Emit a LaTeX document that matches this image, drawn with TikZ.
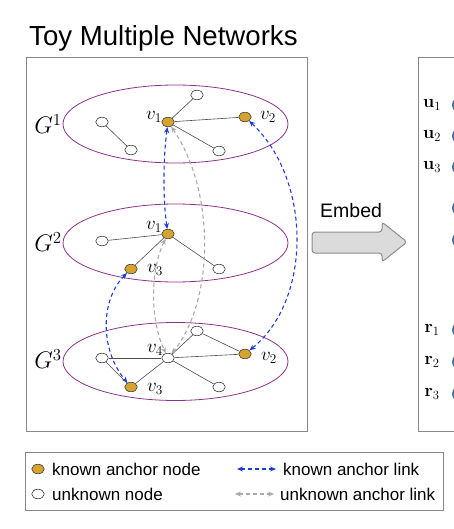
\RequirePackage{fix-cm}
\documentclass[tikz,border=0pt]{standalone}
\usepackage[no-math]{fontspec}
\setmainfont{Liberation Sans}
\usetikzlibrary{shapes.geometric,arrows.meta}
\definecolor{gold}{RGB}{214,164,46}
\definecolor{netpurple}{RGB}{140,50,140}
\definecolor{linkblue}{RGB}{30,60,220}
\definecolor{linkgray}{RGB}{170,170,170}
\definecolor{framegray}{RGB}{135,135,135}
\definecolor{embblue}{RGB}{70,115,170}
\tikzset{
  vnode/.style={ellipse,draw=black!75,line width=0.6pt,minimum width=12.5pt,minimum height=9.5pt,inner sep=0pt,fill=white},
  anode/.style={vnode,fill=gold},
  net/.style={ellipse,draw=netpurple,line width=0.8pt,minimum width=225pt,minimum height=78pt,inner sep=0pt},
  edge/.style={draw=black!70,line width=0.6pt},
  klink/.style={draw=linkblue,line width=1.1pt,dash pattern=on 4pt off 3pt,>={Stealth[length=6pt,width=5pt]},<->},
  ulink/.style={klink,draw=linkgray},
  vlab/.style={font=\fontsize{19}{22}\selectfont,inner sep=0pt},
  glab/.style={font=\fontsize{24}{28}\selectfont,inner sep=0pt},
  elab/.style={font=\fontsize{18}{21}\selectfont,inner sep=0pt,anchor=center},
  frame/.style={draw=framegray,line width=0.9pt},
  legtext/.style={font=\fontsize{17}{20}\selectfont,inner sep=0pt,anchor=base west},
  emb/.style={fill=embblue},
}
\begin{document}
\begin{tikzpicture}[x=1pt,y=-1pt]
\useasboundingbox (0,0) rectangle (454,529);
% title
\node[font=\fontsize{27.6}{32}\selectfont,inner sep=0pt,anchor=base west] (title) at (29,46) {Toy Multiple Networks};
% left frame
\draw[frame] (26,57) rectangle (307,431);
% networks
\node[net] (e1) at (175.5,124) {};
\node[net] (e2) at (175.5,243) {};
\node[net] (e3) at (175.5,361.5) {};
\node[glab] (gl1) at (48,124) {$G^1$};
\node[glab] (gl2) at (48,242) {$G^2$};
\node[glab] (gl3) at (48,359) {$G^3$};
% G1 nodes
\node[anode] (a1) at (168,122) {};
\node[vnode] (a2) at (197,95) {};
\node[anode] (a3) at (245,117) {};
\node[vnode] (a4) at (219,151) {};
\node[vnode] (a5) at (102,122) {};
\node[vnode] (a6) at (131,150) {};
\draw[edge] (a1) -- (a2);
\draw[edge] (a1) -- (a3);
\draw[edge] (a1) -- (a4);
\draw[edge] (a5) -- (a6);
\node[vlab] (la1) at (154,117) {$v_1$};
\node[vlab] (la3) at (268,117) {$v_2$};
% G2 nodes
\node[anode] (b1) at (168,234) {};
\node[vnode] (b2) at (102,241) {};
\node[anode] (b3) at (131,269) {};
\node[vnode] (b4) at (219,269) {};
\draw[edge] (b1) -- (b2);
\draw[edge] (b1) -- (b3);
\draw[edge] (b1) -- (b4);
\node[vlab] (lb1) at (154,227) {$v_1$};
\node[vlab] (lb3) at (155,270) {$v_3$};
% G3 nodes
\node[vnode] (c1) at (168,358) {};
\node[vnode] (c2) at (102,358) {};
\node[anode] (c3) at (131,387) {};
\node[vnode] (c4) at (197,331) {};
\node[anode] (c5) at (245,354) {};
\node[vnode] (c6) at (219,387) {};
\draw[edge] (c2) -- (c1);
\draw[edge] (c2) -- (c3);
\draw[edge] (c1) -- (c3);
\draw[edge] (c1) -- (c4);
\draw[edge] (c4) -- (c5);
\draw[edge] (c1) -- (c5);
\draw[edge] (c1) -- (c6);
\node[vlab] (lc1) at (155,350) {$v_4$};
\node[vlab] (lc5) at (269,358) {$v_2$};
\node[vlab] (lc3) at (155,389) {$v_3$};
% anchor links
\draw[klink] (a1) .. controls (163,160) and (163,200) .. (b1);
\draw[klink] (a3) .. controls (312,180) and (312,300) .. (c5);
\draw[klink] (b3) .. controls (100,300) and (100,350) .. (c3);
\draw[ulink] (a1) .. controls (215,190) and (215,300) .. (c1);
\draw[ulink] (b1) .. controls (150,270) and (150,320) .. (c1);
% embed arrow
\node[font=\fontsize{19.5}{23}\selectfont,inner sep=0pt,anchor=base west] (embed) at (320,217) {Embed};
\draw[draw=black!45,fill=black!14,line width=1pt,rounded corners=3pt]
  (312,232) -- (382,232) -- (382,222) -- (407,242) -- (382,262) -- (382,253) -- (312,253) -- cycle;
% right frame
\draw[frame] (418,57) rectangle (480,431);
\node[elab] (u1) at (432,105) {$\mathbf{u}_1$};
\node[elab] (u2) at (432,136) {$\mathbf{u}_2$};
\node[elab] (u3) at (432,167) {$\mathbf{u}_3$};
\node[elab] (r1) at (432,330) {$\mathbf{r}_1$};
\node[elab] (r2) at (432,362) {$\mathbf{r}_2$};
\node[elab] (r3) at (432,394) {$\mathbf{r}_3$};
\foreach \yy in {105,136,167,208,240,330,362,394}{
  \fill[emb] (460,\yy) circle[radius=8pt];
}
% legend
\draw[frame] (25,452) rectangle (443,510);
\node[anode] (k1) at (38,469) {};
\node[vnode] (k2) at (38,494) {};
\node[legtext] (t1) at (52,475) {known anchor node};
\node[legtext] (t2) at (52,500) {unknown node};
\coordinate (p1) at (237,469);
\coordinate (p2) at (276,469);
\coordinate (q1) at (235,494);
\coordinate (q2) at (274,494);
\draw[klink] (p1) -- (p2);
\draw[ulink] (q1) -- (q2);
\node[legtext] (t3) at (283,475) {known anchor link};
\node[legtext] (t4) at (280,500) {unknown anchor link};
\end{tikzpicture}
\end{document}
